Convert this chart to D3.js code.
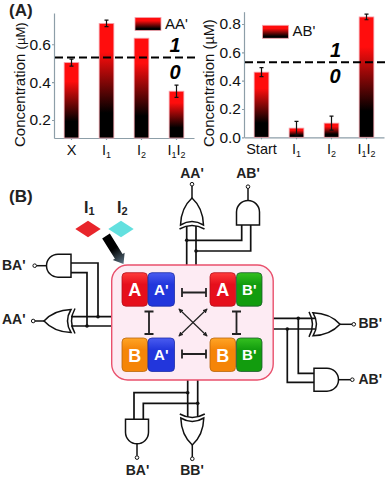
<!DOCTYPE html>
<html>
<head>
<meta charset="utf-8">
<script src="https://cdn.jsdelivr.net/npm/d3@7"></script>
<style>
  html, body { margin: 0; background: #fff; }
  svg { display: block; font-family: "Liberation Sans", Arial, sans-serif; }
</style>
</head>
<body>
<div id="chart"></div>
<script>
// panel A values
const aaCategories = ['X', 'I1', 'I2', 'I1I2']
const aaValues = [0.503, 0.71, 0.632, 0.352]
const aaErrors = [0.018, 0.017, 0, 0.032]
const aaTicks = [0.2, 0.4, 0.6]
const abCategories = ['Start', 'I1', 'I2', 'I1I2']
const abValues = [0.46, 0.065, 0.1, 0.85]
const abErrors = [0.032, 0.048, 0.05, 0.02]
const abTicks = [0, 0.2, 0.4, 0.6, 0.8]
const threshold = 0.53

const svg = d3.select('#chart').append('svg').attr('width', 387).attr('height', 478)
const defs = svg.append('defs')

const barGrad = defs.append('linearGradient').attr('id', 'barGrad').attr('x1', 0).attr('x2', 0).attr('y1', 0).attr('y2', 1)
barGrad.append('stop').attr('offset', '25%').attr('stop-color', '#ff0d0d')
barGrad.append('stop').attr('offset', '78%').attr('stop-color', '#000')

const legendGrad = defs.append('linearGradient').attr('id', 'legendGrad').attr('x1', 0).attr('x2', 0).attr('y1', 0).attr('y2', 1)
legendGrad.append('stop').attr('offset', '25%').attr('stop-color', '#ff0d0d')
legendGrad.append('stop').attr('offset', '85%').attr('stop-color', '#000')

const arrowGrad = defs.append('linearGradient').attr('id', 'arrowGrad').attr('x1', 0).attr('x2', 1).attr('y1', 0).attr('y2', 0)
arrowGrad.append('stop').attr('offset', '45%').attr('stop-color', '#000')
arrowGrad.append('stop').attr('offset', '100%').attr('stop-color', '#5c7484')

function drawChart (conf) {
  const x = d3.scaleBand().domain(conf.categories).range([conf.left, conf.right])
    .paddingInner(0.58).paddingOuter(0.29)
  const y = d3.scaleLinear().domain(conf.domain).range([conf.bottom, conf.top])
  const g = svg.append('g')

  const yAxis = g.append('g').attr('transform', `translate(${conf.left},0)`)
    .call(d3.axisLeft(y).tickValues(conf.ticks).tickSize(2).tickSizeOuter(0).tickFormat(d3.format('.1f')))
  const xAxis = g.append('g').attr('transform', `translate(0,${conf.bottom})`)
    .call(d3.axisBottom(x).tickSize(2).tickSizeOuter(0))

  yAxis.selectAll('.domain, line').attr('stroke', '#8d9ea8').attr('stroke-width', 1.2)
  xAxis.selectAll('.domain, line').attr('stroke', '#8d9ea8').attr('stroke-width', 1.2)
  yAxis.selectAll('text').attr('font-size', 15.5).attr('fill', '#111').attr('x', -3)
  xAxis.selectAll('text').attr('font-size', 14.5).attr('fill', '#111').attr('y', 6.5)
    .each(function (d) {
      // digits in a category name are subscripts
      const t = d3.select(this).text(null)
      let lowered = false
      d.match(/[A-Za-z]+|\d/g).forEach(part => {
        const sub = /\d/.test(part)
        const span = t.append('tspan').text(part)
        if (sub) span.attr('font-size', 9).attr('dy', 3)
        else if (lowered) span.attr('dy', -3)
        lowered = sub
      })
    })

  const rows = conf.categories.map((c, i) => ({c, v: conf.values[i], e: conf.errors[i]}))
  g.selectAll('.bar').data(rows).enter().append('rect')
    .attr('x', d => x(d.c))
    .attr('y', d => y(d.v))
    .attr('width', x.bandwidth())
    .attr('height', d => conf.bottom - y(d.v))
    .attr('fill', 'url(#barGrad)')
    .attr('stroke', '#f6a3ad')
    .attr('stroke-width', 0.8)

  g.selectAll('.err').data(rows.filter(d => d.e > 0)).enter().append('path')
    .attr('d', d => {
      const c = x(d.c) + x.bandwidth() / 2
      const hi = y(d.v + d.e)
      const lo = y(d.v - d.e)
      return `M${c - 2},${hi}H${c + 2}M${c},${hi}V${lo}M${c - 2},${lo}H${c + 2}`
    })
    .attr('fill', 'none').attr('stroke', '#111').attr('stroke-width', 1.2)

  g.append('line')
    .attr('x1', conf.left + 1).attr('x2', conf.dashEnd)
    .attr('y1', y(threshold)).attr('y2', y(threshold))
    .attr('stroke', '#000').attr('stroke-width', 1.8).attr('stroke-dasharray', '8 4')

  const title = g.append('text')
    .attr('transform', `translate(${conf.titleX},147) rotate(-90)`)
    .attr('font-size', 15).attr('fill', '#111')
  title.append('tspan').text('Concentration ')
  title.append('tspan').text('(µM)').attr('font-size', conf.unitSize)

  g.append('rect')
    .attr('x', conf.legendX).attr('y', conf.legendY)
    .attr('width', 26).attr('height', 13)
    .attr('fill', 'url(#legendGrad)').attr('stroke', '#f6a3ad').attr('stroke-width', 0.8)
  g.append('text').text(conf.legend)
    .attr('x', conf.legendX + 30).attr('y', conf.legendY + 11)
    .attr('font-size', 15).attr('fill', '#111')

  conf.logic.forEach(l => {
    g.append('text').text(l.text).attr('x', l.x).attr('y', l.y)
      .attr('text-anchor', 'middle').attr('font-size', 20)
      .attr('font-weight', 'bold').attr('font-style', 'italic').attr('fill', '#000')
  })
}

drawChart({
  categories: aaCategories, values: aaValues, errors: aaErrors, ticks: aaTicks,
  domain: [0.105, 0.765], left: 54, right: 194, top: 13, bottom: 138, dashEnd: 197,
  titleX: 25, unitSize: 13, legend: "AA'", legendX: 135, legendY: 17.5,
  logic: [{text: '1', x: 175, y: 51.5}, {text: '0', x: 175, y: 79}]
})
drawChart({
  categories: abCategories, values: abValues, errors: abErrors, ticks: abTicks,
  domain: [0, 0.887], left: 244, right: 384, top: 11.7, bottom: 137.3, dashEnd: 385,
  titleX: 214, unitSize: 14.5, legend: "AB'", legendX: 262.5, legendY: 25.3,
  logic: [{text: '1', x: 335.5, y: 57}, {text: '0', x: 335, y: 83}]
})

svg.append('text').text('(A)').attr('x', 9).attr('y', 16).attr('font-size', 17).attr('font-weight', 'bold').attr('fill', '#222')
svg.append('text').text('(B)').attr('x', 9).attr('y', 202).attr('font-size', 17).attr('font-weight', 'bold').attr('fill', '#222')

// panel B: inputs
const inputs = [
  {label: 'I', sub: '1', tx: 84, x: 88, color: '#e8252b'},
  {label: 'I', sub: '2', tx: 117, x: 121, color: '#63e0df'}
]
inputs.forEach(d => {
  const t = svg.append('text').attr('x', d.tx).attr('y', 213).attr('font-size', 16).attr('font-weight', 'bold').attr('fill', '#222')
  t.append('tspan').text(d.label)
  t.append('tspan').text(d.sub).attr('font-size', 11).attr('dy', 2)
  svg.append('path')
    .attr('d', `M${d.x - 12.7},229L${d.x},220.7L${d.x + 12.7},229L${d.x},237.3Z`)
    .attr('fill', d.color)
})

// thick arrow, drawn along +x then rotated into place
svg.append('path')
  .attr('transform', 'translate(106,236) rotate(58)')
  .attr('d', 'M0,-4.5H24V-7L33,0L24,7V4.5H0Z')
  .attr('fill', 'url(#arrowGrad)')

// panel B: wires first so that the box and gates sit on top
const wires = [
  [[71, 263], [98, 263], [98, 316.7]],
  [[71, 272.7], [87, 272.7], [87, 326]],
  [[71, 316.7], [112, 316.7]],
  [[71, 326], [112, 326]],
  [[186.7, 226], [186.7, 265]],
  [[196, 226], [196, 265]],
  [[186.7, 240.3], [241.7, 240.3], [241.7, 225]],
  [[196, 251], [250.7, 251], [250.7, 225]],
  [[273, 318.3], [315, 318.3]],
  [[273, 329], [315, 329]],
  [[298.3, 318.3], [298.3, 373.3], [314, 373.3]],
  [[287.3, 329], [287.3, 382.3], [314, 382.3]],
  [[187.7, 380], [187.7, 417]],
  [[197.7, 380], [197.7, 417]],
  [[187.7, 392.7], [134, 392.7], [134, 419]],
  [[197.7, 403.3], [143.3, 403.3], [143.3, 419]]
]
const junctions = [[98, 316.7], [87, 326], [186.7, 240.3], [196, 251], [298.3, 318.3], [287.3, 329], [187.7, 392.7], [197.7, 403.3]]
const line = d3.line()
svg.append('g').selectAll('path').data(wires).enter().append('path')
  .attr('d', d => line(d)).attr('fill', 'none').attr('stroke', '#111').attr('stroke-width', 1.7)
svg.append('g').selectAll('circle').data(junctions).enter().append('circle')
  .attr('cx', d => d[0]).attr('cy', d => d[1]).attr('r', 1.8).attr('fill', '#111')

const andPath = 'M0,-11.5H13A11.5,11.5 0 0 1 13,11.5H0Z'
const xorPath = 'M0,-11.5Q7,0 0,11.5Q17,11 27,0Q17,-11 0,-11.5Z'
const xorBack = 'M-4,-12.5Q3,0 -4,12.5'
const gates = [
  {type: 'and', x: 71, y: 265.7, angle: 180, outLen: 10},
  {type: 'xor', x: 71, y: 321, angle: 180, outLen: 9},
  {type: 'xor', x: 192, y: 225, angle: -90, outLen: 12},
  {type: 'and', x: 248, y: 225, angle: -90, outLen: 12},
  {type: 'xor', x: 313, y: 324.3, angle: 0, outLen: 12},
  {type: 'and', x: 314, y: 379.7, angle: 0, outLen: 12},
  {type: 'and', x: 137, y: 419.3, angle: 90, outLen: 12},
  {type: 'xor', x: 192.3, y: 418, angle: 90, outLen: 12}
]
const gate = svg.append('g').selectAll('g').data(gates).enter().append('g')
  .attr('transform', d => `translate(${d.x},${d.y}) rotate(${d.angle})`)
gate.append('path')
  .attr('d', d => d.type === 'and' ? andPath : xorPath)
  .attr('fill', '#fff').attr('stroke', '#111').attr('stroke-width', 1.5)
gate.filter(d => d.type === 'xor').append('path')
  .attr('d', xorBack).attr('fill', 'none').attr('stroke', '#111').attr('stroke-width', 1.5)
gate.append('line')
  .attr('x1', d => d.type === 'and' ? 24.5 : 27)
  .attr('x2', d => (d.type === 'and' ? 24.5 : 27) + d.outLen)
  .attr('stroke', '#111').attr('stroke-width', 1.5)
gate.append('circle')
  .attr('cx', d => (d.type === 'and' ? 24.5 : 27) + d.outLen + 1.8).attr('r', 1.8)
  .attr('fill', '#fff').attr('stroke', '#111').attr('stroke-width', 1)

const outputs = [
  {text: "BA'", x: 2, y: 269.5, anchor: 'start'},
  {text: "AA'", x: 2, y: 323.5, anchor: 'start'},
  {text: "AA'", x: 192, y: 177.5, anchor: 'middle'},
  {text: "AB'", x: 248, y: 177.5, anchor: 'middle'},
  {text: "BB'", x: 358.5, y: 328, anchor: 'start'},
  {text: "AB'", x: 358.5, y: 384, anchor: 'start'},
  {text: "BA'", x: 137.5, y: 475, anchor: 'middle'},
  {text: "BB'", x: 192, y: 475, anchor: 'middle'}
]
svg.append('g').selectAll('text').data(outputs).enter().append('text')
  .text(d => d.text).attr('x', d => d.x).attr('y', d => d.y)
  .attr('text-anchor', d => d.anchor)
  .attr('font-size', 14).attr('font-weight', 'bold').attr('fill', '#222')

// panel B: reaction box
svg.append('rect')
  .attr('x', 111.7).attr('y', 265).attr('width', 161.5).attr('height', 115).attr('rx', 16)
  .attr('fill', '#fdebf3').attr('stroke', '#e9506c').attr('stroke-width', 1.4)

const tileColors = {
  red: ['#ff3b3b', '#e60f1c', '#b5101c'],
  blue: ['#4a5cf0', '#2236dc', '#1c2ca8'],
  orange: ['#ffa526', '#f58508', '#b8660c'],
  green: ['#35c020', '#129c0e', '#1c5c2c']
}
Object.keys(tileColors).forEach(k => {
  const g = defs.append('linearGradient').attr('id', `tile-${k}`).attr('x1', 0).attr('x2', 0).attr('y1', 0).attr('y2', 1)
  g.append('stop').attr('offset', '0%').attr('stop-color', tileColors[k][0])
  g.append('stop').attr('offset', '35%').attr('stop-color', tileColors[k][1])
  g.append('stop').attr('offset', '100%').attr('stop-color', tileColors[k][1])
})

const tiles = [
  {label: 'A', color: 'red', x: 122, y: 272.7, w: 25.5},
  {label: "A'", color: 'blue', x: 148, y: 272.7, w: 26.5},
  {label: 'A', color: 'red', x: 210, y: 272.7, w: 25.5},
  {label: "B'", color: 'green', x: 236.5, y: 272.7, w: 25.5},
  {label: 'B', color: 'orange', x: 122, y: 338, w: 25.5},
  {label: "A'", color: 'blue', x: 148, y: 338, w: 26.5},
  {label: 'B', color: 'orange', x: 210, y: 338, w: 25.5},
  {label: "B'", color: 'green', x: 236.5, y: 338, w: 25.5}
]
const tile = svg.append('g').selectAll('g').data(tiles).enter().append('g')
tile.append('rect')
  .attr('x', d => d.x).attr('y', d => d.y).attr('width', d => d.w).attr('height', 33.5).attr('rx', 4)
  .attr('fill', d => `url(#tile-${d.color})`)
  .attr('stroke', d => tileColors[d.color][2]).attr('stroke-width', 0.8)
tile.append('text')
  .text(d => d.label)
  .attr('x', d => d.x + d.w / 2).attr('y', d => d.y + (d.label.length > 1 ? 22 : 23.5))
  .attr('text-anchor', 'middle').attr('fill', '#fff').attr('font-weight', 'bold')
  .attr('font-size', d => d.label.length > 1 ? 15 : 18)

const inhibitors = [
  [[182, 292.5], [206, 292.5]],
  [[182, 354], [206, 354]],
  [[149, 311.5], [149, 334]],
  [[236.5, 311.5], [236.5, 334]]
]
inhibitors.forEach(d => {
  const horizontal = d[0][1] === d[1][1]
  const capX = horizontal ? 0 : 4.5
  const capY = horizontal ? 4.5 : 0
  svg.append('path')
    .attr('d', line(d) + d.map(p => `M${p[0] - capX},${p[1] - capY}L${p[0] + capX},${p[1] + capY}`).join(''))
    .attr('fill', 'none').attr('stroke', '#222').attr('stroke-width', 1.8)
})

defs.append('marker').attr('id', 'tip').attr('viewBox', '0 0 6 6').attr('refX', 5).attr('refY', 3)
  .attr('markerWidth', 4).attr('markerHeight', 4).attr('orient', 'auto-start-reverse')
  .append('path').attr('d', 'M0,0L6,3L0,6Z').attr('fill', '#222')
const crossLinks = [[[179, 309], [207, 336]], [[207, 309], [179, 336]]]
svg.append('g').selectAll('path').data(crossLinks).enter().append('path')
  .attr('d', d => line(d)).attr('stroke', '#222').attr('stroke-width', 1.2).attr('fill', 'none')
  .attr('marker-start', 'url(#tip)').attr('marker-end', 'url(#tip)')
</script>
</body>
</html>
